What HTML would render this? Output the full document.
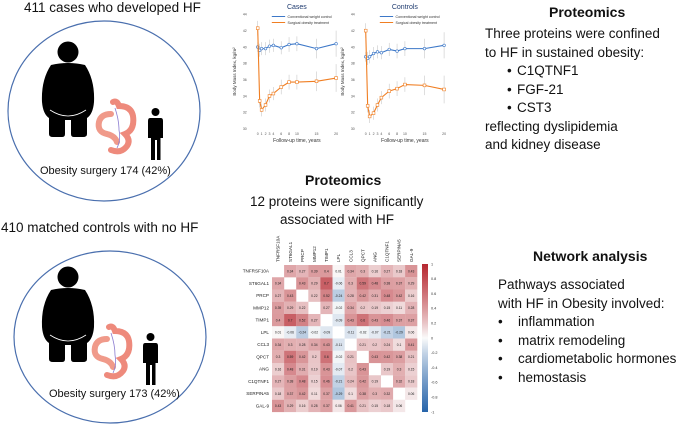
<!DOCTYPE html>
<html><head><meta charset="utf-8">
<style>
body{margin:0;width:685px;height:428px;background:#fff;overflow:hidden;font-family:"Liberation Sans",sans-serif;position:relative}
.t{position:absolute;white-space:nowrap;color:#111}
svg{position:absolute;left:0;top:0}
</style></head><body>
<svg width="685" height="428">
<g id="people"></g>
<g id="line-charts"></g>
<g id="heatmap"></g>
</svg>
<div class="t" style="left:24px;top:0px;font-size:13.5px">411 cases who developed HF</div>
<div class="t" style="left:40px;top:165px;font-size:11px">Obesity surgery 174 (42%)</div>
<div class="t" style="left:1px;top:220px;font-size:13.5px">410 matched controls with no HF</div>
<div class="t" style="left:49px;top:388px;font-size:11px">Obesity surgery 173 (42%)</div>
<div class="t" style="left:305px;top:172px;font-size:14px;font-weight:bold">Proteomics</div>
<div class="t" style="left:250px;top:193px;font-size:13.5px;line-height:18px">12 proteins were significantly<br><span style="padding-left:30px">associated with HF</span></div>
<div class="t" style="left:549px;top:4px;font-size:14px;font-weight:bold">Proteomics</div>
<div class="t" style="left:485px;top:25px;font-size:13.5px;line-height:18.5px">Three proteins were confined<br>to HF in sustained obesity:<br><span style="display:inline-block;width:32px;text-indent:22px">•</span>C1QTNF1<br><span style="display:inline-block;width:32px;text-indent:22px">•</span>FGF-21<br><span style="display:inline-block;width:32px;text-indent:22px">•</span>CST3<br>reflecting dyslipidemia<br>and kidney disease</div>
<div class="t" style="left:533px;top:248px;font-size:14px;font-weight:bold">Network analysis</div>
<div class="t" style="left:498px;top:276px;font-size:13.5px;line-height:18.5px">Pathways associated<br>with HF in Obesity involved:<br><span style="display:inline-block;width:20px">•</span>inflammation<br><span style="display:inline-block;width:20px">•</span>matrix remodeling<br><span style="display:inline-block;width:20px">•</span>cardiometabolic hormones<br><span style="display:inline-block;width:20px">•</span>hemostasis</div>
<script>
const NS='http://www.w3.org/2000/svg';
function mk(tag,attrs,parent){const e=document.createElementNS(NS,tag);for(const k in attrs)e.setAttribute(k,attrs[k]);parent.appendChild(e);return e;}

// ---------- people / circles ----------
const P=document.getElementById('people');
function group(cx,cy,rx,ry,fx,fy,sx,sy,gx,gy,nm){
  const c=mk('ellipse',{cx:cx,cy:cy,rx:rx,ry:ry,fill:'none',stroke:'#4a6fae','stroke-width':1.2},P);
  
  
  const f=mk('g',{transform:`translate(${fx},${fy})`},P);
  
  
  mk('circle',{cx:25,cy:0,r:10.5,fill:'#000'},f);
  mk('path',{d:'M8,13 Q25,9 42,13 Q52,28 51,50 Q50,62 44,66 L44,82 Q44,85 40,85 L31,85 Q28,85 28,82 L28,68 L22,68 L22,82 Q22,85 19,85 L10,85 Q6,85 6,82 L6,66 Q0,62 -1,50 Q-2,28 8,13 Z',fill:'#000'},f);
  mk('path',{d:'M7,58 Q25,70 43,58',fill:'none',stroke:'#fff','stroke-width':0.8},f);
  const s=mk('g',{transform:`translate(${sx},${sy})`},P);
  
  
  mk('circle',{cx:7.5,cy:4,r:4,fill:'#000'},s);
  mk('path',{d:'M2,10 L13,10 Q15,10 15,13 L15,30 L12.5,30 L12.5,52 L9,52 L9,32 L7,32 L7,52 L3,52 L3,30 L0,30 L0,13 Q0,10 2,10 Z',fill:'#000'},s);
  const g=mk('g',{transform:`translate(${gx},${gy})`},P);
  
  
  mk('path',{d:'M16,2 Q20,0 22,6 Q34,6 36,16 Q38,30 28,34 Q34,40 30,46 Q24,54 14,50',fill:'none',stroke:'#ee8a7c','stroke-width':6,'stroke-linecap':'round'},g);
  mk('path',{d:'M14,14 Q4,14 2,22 Q0,32 10,34 Q18,36 20,42',fill:'none',stroke:'#f09a8a','stroke-width':6,'stroke-linecap':'round'},g);
  mk('path',{d:'M18,8 Q22,20 22,30 Q24,40 20,48',fill:'none',stroke:'#8a7bd0','stroke-width':0.8},g);
}
group(104,111,96,90,43,52,148,108,97,100,'cases');
group(110,337,96,86,43,277,143,333,93,325,'controls');

// ---------- line charts ----------
const times=[0,0.5,1,2,3,4,6,8,10,15,20];
const casesConv=[40.0,39.6,39.8,39.8,40.1,40.2,39.9,40.3,40.4,39.8,40.4];
const casesSurg=[42.3,33.4,32.3,32.9,34.0,34.3,35.1,35.7,35.7,35.8,36.2];
const ctrlConv=[38.8,38.6,38.8,39.2,39.4,39.3,39.7,39.5,39.8,39.8,40.2];
const ctrlSurg=[42.0,32.8,31.5,31.9,32.9,33.8,34.6,34.9,35.4,35.3,34.8];
const errConv=[0.6,0.8,0.8,0.8,0.8,0.8,0.8,0.9,0.9,1.2,1.6];
const errSurg=[0.9,0.8,0.8,0.8,0.8,0.8,0.9,0.9,0.9,1.2,1.7];
const yTicks=[30,32,34,36,38,40,42,44];
const xTickLabels=[0,1,2,3,4,6,8,10,15,20];
const L=document.getElementById('line-charts');
function chart(x0,title,conv,surg,nm){
  const X=t=>x0+3.92*t, Y=v=>14.3+(44-v)*8.17;
  const g=mk('g',{},L);
  
  
  const tt=mk('text',{x:X(10),y:9,'font-size':7,'text-anchor':'middle',fill:'#1f3b6f'},g);tt.textContent=title;
  
  
  yTicks.forEach(v=>{
    const l=mk('text',{x:X(-2.8),y:Y(v)+1.3,'font-size':3.5,'text-anchor':'end',fill:'#555'},g);l.textContent=v;
    
    
  });
  xTickLabels.forEach(t=>{const l=mk('text',{x:X(t),y:Y(29.2),'font-size':3.5,'text-anchor':'middle',fill:'#555'},g);l.textContent=t;
    
    });
  const xl=mk('text',{x:X(10),y:Y(28.4),'font-size':5,'text-anchor':'middle',fill:'#333'},g);xl.textContent='Follow-up time, years';
  
  
  const yl=mk('text',{x:0,y:0,'font-size':4.5,'text-anchor':'middle',fill:'#333',transform:`translate(${X(-5.5)},${Y(37)}) rotate(-90)`},g);yl.textContent='Body Mass Index, kg/m²';
  
  
  [[conv,'#3d78c8',errConv,'conventional'],[surg,'#f07e22',errSurg,'surgical']].forEach(([d,col,er,s])=>{
    d.forEach((v,i)=>mk('line',{x1:X(times[i]),x2:X(times[i]),y1:Y(v-er[i]),y2:Y(v+er[i]),stroke:'#c8c8c8','stroke-width':0.6},g));
    const p=mk('polyline',{points:d.map((v,i)=>X(times[i])+','+Y(v)).join(' '),fill:'none',stroke:col,'stroke-width':1.1},g);
    
    
    d.forEach((v,i)=>{
      const m=s==='conventional'?mk('circle',{cx:X(times[i]),cy:Y(v),r:1.3,fill:'#fff',stroke:col,'stroke-width':0.6},g):mk('rect',{x:X(times[i])-1.4,y:Y(v)-1.4,width:2.8,height:2.8,fill:'#fff',stroke:col,'stroke-width':0.6},g);
      
      
    });
  });
  [['Conventional weight control','#3d78c8',16.5],['Surgical obesity treatment','#f07e22',22.5]].forEach(([t,c,y])=>{
    mk('line',{x1:X(3.6),x2:X(7),y1:y,y2:y,stroke:c,'stroke-width':1},g);
    const lt=mk('text',{x:X(7.6),y:y+1.3,'font-size':3.6,fill:'#333'},g);lt.textContent=t;
    
    
  });
}
chart(257.7,'Cases',casesConv,casesSurg,'cases');
chart(365.7,'Controls',ctrlConv,ctrlSurg,'controls');

// ---------- heatmap ----------
const proteins=['TNFRSF10A','ST6GAL1','PRCP','MMP12','TIMP1','LPL','CCL3','QPCT','ANG','C1QTNF1','SERPINA5','GAL-9'];
const corr=[
[null,.34,.27,.39,.4,.01,.34,.3,.16,.27,.18,.43],
[.34,null,.43,.29,.7,-.06,.3,.59,.48,.38,.37,.29],
[.27,.43,null,.22,.52,-.24,.28,.42,.31,.48,.42,.16],
[.39,.29,.22,null,.27,-.02,.34,.2,.19,.15,.11,.28],
[.4,.7,.52,.27,null,-.09,.43,.6,.43,.46,.37,.37],
[.01,-.06,-.24,-.02,-.09,null,-.11,-.02,-.07,-.21,-.29,.06],
[.34,.3,.28,.34,.43,-.11,null,.21,.2,.24,.1,.41],
[.3,.59,.42,.2,.6,-.02,.21,null,.43,.42,.38,.21],
[.16,.48,.31,.19,.43,-.07,.2,.43,null,.19,.3,.15],
[.27,.38,.48,.15,.46,-.21,.24,.42,.19,null,.32,.18],
[.18,.37,.42,.11,.37,-.29,.1,.38,.3,.32,null,.06],
[.43,.29,.16,.28,.37,.06,.41,.21,.15,.18,.06,null]];
const cbTicks=[1,0.8,0.6,0.4,0.2,0,-0.2,-0.4,-0.6,-0.8,-1];
const H=document.getElementById('heatmap');
const hx0=272,hy0=265,cw=12.1,ch=12.25;
function color(v){
  const a=Math.min(1,Math.abs(v));
  const w=[250,250,250], e=v>=0?[182,40,48]:[38,100,170];
  return `rgb(${w.map((c,i)=>Math.round(c+(e[i]-c)*Math.pow(a,0.85))).join(',')})`;
}
proteins.forEach((p,r)=>{
  const rl=mk('text',{x:hx0-3,y:hy0+ch*(r+0.5)+1.6,'font-size':4.6,'text-anchor':'end',fill:'#222'},H);rl.textContent=p;
  
  
  const cl=mk('text',{x:0,y:0,'font-size':4.6,fill:'#222',transform:`translate(${hx0+cw*(r+0.5)+1.6},${hy0-3}) rotate(-90)`},H);cl.textContent=p;
  
  
  corr[r].forEach((v,c)=>{
    if(v===null)return;
    const cell=mk('rect',{x:hx0+cw*c,y:hy0+ch*r,width:cw+0.1,height:ch+0.1,fill:color(v)},H);
    
    
    const tx=mk('text',{x:hx0+cw*(c+0.5),y:hy0+ch*(r+0.5)+1.2,'font-size':3.3,'text-anchor':'middle',fill:'#222'},H);
    tx.textContent=String(v);
  });
});
const defs=mk('defs',{},H);
const lg=mk('linearGradient',{id:'cb',x1:0,y1:0,x2:0,y2:1},defs);
cbTicks.forEach((v,i)=>mk('stop',{offset:i/(cbTicks.length-1),'stop-color':color(v)},lg));
const cb=mk('rect',{x:422,y:264,width:6,height:148,fill:'url(#cb)'},H);


cbTicks.forEach((v,i)=>{const t=mk('text',{x:431,y:264+148*i/(cbTicks.length-1)+1.3,'font-size':3.8,fill:'#333'},H);t.textContent=v;
  
  });
</script>
</body></html>
